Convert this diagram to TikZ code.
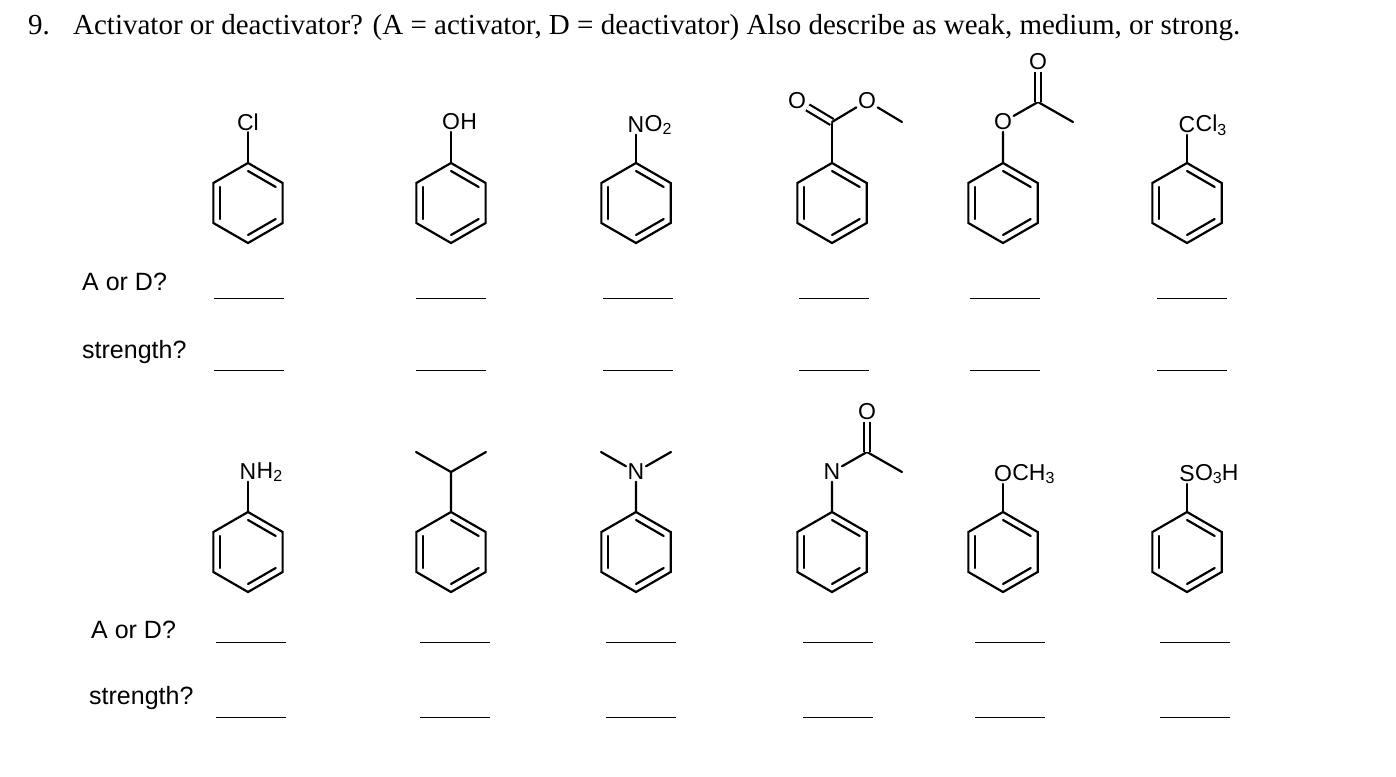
\documentclass[tikz,border=0pt]{standalone}
\usepackage{fontspec}
\setmainfont{Liberation Serif}
\newfontfamily\lsans{Liberation Sans}
\usetikzlibrary{calc}
\tikzset{bond/.style={line width=2.2pt,line cap=round},
 atom/.style={font=\lsans\fontsize{23}{23}\selectfont,inner sep=1.5pt},
 tail/.style={atom,anchor=west,inner sep=0,xshift=-1.5pt},
 lbl/.style={font=\lsans\fontsize{25}{25}\selectfont,anchor=west,inner sep=0},
 blank/.style={line width=1pt},
 dbl/.style={bond,double=white,double distance=4.5pt,line cap=butt}}
\newcommand{\bz}[3]{%
 \begin{scope}[shift={(#1,#2)}]
 \coordinate (#3) at (0,-40);
 \draw[bond] (0,-40)--(34.64,-20)--(34.64,20)--(0,40)--(-34.64,20)--(-34.64,-20)--cycle;
 \draw[bond] (0,-32)--(27.7,-16);
 \draw[bond] (-27.7,-16)--(-27.7,16);
 \draw[bond] (27.7,16)--(0,32);
 \end{scope}}
\newcommand{\sub}[1]{\raisebox{-0.3ex}{\fontsize{16}{16}\selectfont #1}}
\newcommand{\blanks}[2]{\foreach \a in {#2}{\draw[blank] (\a,#1)--++(70,0);}}
\begin{document}
\begin{tikzpicture}[x=1pt,y=-1pt]
\useasboundingbox (0,0) rectangle (1396,776);
\node[anchor=base west,inner sep=0,font=\fontsize{29}{29}\selectfont] (title) at (28,35) {9.\hspace{0.8em}Activator or deactivator? (A = activator, D = deactivator) Also describe as weak, medium, or strong.};
% row 1
\bz{248}{203}{r1}\node[atom] (cl) at (248,122) {Cl};\draw[bond] (r1)--(cl);
\bz{451}{203}{r2}\node[atom] (o2) at (451,122) {O};\node[tail] (h2) at (o2.east) {H};\draw[bond] (r2)--(o2);
\bz{636}{203}{r3}\node[atom] (n3) at (636,125) {N};\node[tail] (o3) at (n3.east) {O\sub{2}};\draw[bond] (r3)--(n3);
\bz{832}{203}{r4}\coordinate (c4) at (832,122);\node[atom] (o4a) at (797,101) {O};\node[atom] (o4b) at (867,101) {O};\coordinate (m4) at (902,122);
\draw[bond] (r4)--(c4);\draw[dbl] (c4)--(o4a);\draw[bond] (c4)--(o4b)--(m4);
\bz{1003}{203}{r5}\node[atom] (o5) at (1003,122) {O};\coordinate (c5) at (1038,102);\node[atom] (o5b) at (1038,62) {O};\coordinate (m5) at (1073,122);
\draw[bond] (r5)--(o5)--(c5)--(m5);\draw[dbl] (c5)--(o5b);
\bz{1187}{203}{r6}\node[atom] (c6) at (1187,125) {C};\node[tail] (cl6) at (c6.east) {Cl\sub{3}};\draw[bond] (r6)--(c6);
\node[lbl] (ad1) at (82,282) {A or D?};
\node[lbl] (st1) at (82,352) {strength?};
\blanks{298}{214,416,603,799,970,1157}
\blanks{370}{214,416,603,799,970,1157}
% row 2
\bz{248}{552}{s1}\node[atom] (n7) at (248,472) {N};\node[tail] (h7) at (n7.east) {H\sub{2}};\draw[bond] (s1)--(n7);
\bz{451}{552}{s2}\coordinate (c8) at (451,472);\coordinate (m8a) at (416,452);\coordinate (m8b) at (486,452);\draw[bond] (s2)--(c8)--(m8a);\draw[bond] (c8)--(m8b);
\bz{636}{552}{s3}\node[atom] (n9) at (636,472) {N};\coordinate (m9a) at (601,452);\coordinate (m9b) at (671,452);\draw[bond] (s3)--(n9)--(m9a);\draw[bond] (n9)--(m9b);
\bz{832}{552}{s4}\node[atom] (n10) at (832,472) {N};\coordinate (c10) at (867,452);\node[atom] (o10) at (867,412) {O};\coordinate (m10) at (902,472);
\draw[bond] (s4)--(n10)--(c10)--(m10);\draw[dbl] (c10)--(o10);
\bz{1003}{552}{s5}\node[atom] (o11) at (1003,474) {O};\node[tail] (ch11) at (o11.east) {CH\sub{3}};\draw[bond] (s5)--(o11);
\bz{1187}{552}{s6}\node[atom] (s12) at (1187,474) {S};\node[tail] (so12) at (s12.east) {O\sub{3}H};\draw[bond] (s6)--(s12);
\node[lbl] (ad2) at (91,630) {A or D?};
\node[lbl] (st2) at (89,698) {strength?};
\blanks{642}{216,420,606,803,975,1160}
\blanks{717}{216,420,606,803,975,1160}
\end{tikzpicture}
\end{document}
